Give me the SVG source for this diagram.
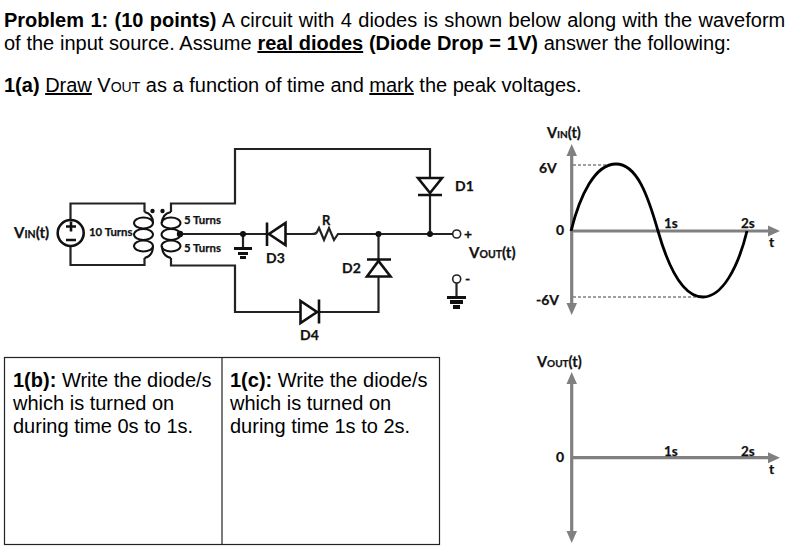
<svg xmlns="http://www.w3.org/2000/svg" width="812" height="551" viewBox="0 0 812 551">
<style>
.t{font-family:"Liberation Sans",Arial,sans-serif;font-size:20px;fill:#000}
.b{font-weight:700}
.l{font-family:Lato,"Noto Sans",sans-serif;font-weight:700;fill:#111;stroke:#111;stroke-width:.25}
.w{fill:none;stroke:#222;stroke-width:2.2}
.k{fill:none;stroke:#111;stroke-width:2.6}
.c{fill:none;stroke:#111;stroke-width:2}
.dot{fill:#111}
.axis{fill:none;stroke:#808080;stroke-width:3.2}
.head{fill:#808080}
.dash{fill:none;stroke:#808080;stroke-width:1.4;stroke-dasharray:3 2}
.u{text-decoration:underline}
</style>
<rect width="812" height="551" fill="#fff"/>
<g id="heading">
<text class="t" x="4" y="27" word-spacing="0.8"><tspan class="b">Problem 1: (10 points)</tspan> A circuit with 4 diodes is shown below along with the waveform</text>
<text class="t" x="4" y="50" word-spacing="0.2">of the input source. Assume <tspan class="b u">real diodes</tspan><tspan class="b"> (Diode Drop = 1V)</tspan> answer the following:</text>
<text class="t" x="4" y="92"><tspan class="b">1(a)</tspan> <tspan class="u">Draw</tspan> V<tspan font-size="14">OUT</tspan> as a function of time and <tspan class="u">mark</tspan> the peak voltages.</text>
</g>
<g id="connectors">
<path class="w" d="M70.500 220V203.500H144.500V212M144.500 258V265H70.500V246"/>
<path class="w" d="M171 212V203.500H235V149H430V178M430 195V234M171 258V265.500H235V312H300M319 312H378.500V277M378.500 259V234M180 234H267M286 234H312M342 234H452.500M243 234V248"/>
<path class="w" d="M312 234C315 234 316 234 317 232L319 228L324 240L329 228L334 240L338 234H342"/>
<path class="w" d="M456.500 283V297"/>
</g>
<g id="source"><circle class="k" cx="70.700" cy="233" r="13"/><path class="k" stroke-width="2" d="M66 226.500H76M71 221.500V231.500M66 240H76"/></g>
<g id="transformer">
<ellipse class="c" cx="143.500" cy="223" rx="9.500" ry="5.500"/><ellipse class="c" cx="143.500" cy="234.500" rx="9.500" ry="5.500"/><ellipse class="c" cx="143.500" cy="246" rx="9.500" ry="5.500"/>
<path class="c" d="M144.500 212Q153 214 153 223M153 246Q153 256 144.500 258"/>
<ellipse class="c" cx="171" cy="223" rx="9.500" ry="5.500"/><ellipse class="c" cx="171" cy="234.500" rx="9.500" ry="5.500"/><ellipse class="c" cx="171" cy="246" rx="9.500" ry="5.500"/>
<path class="c" d="M171 212Q162 214 162 223M162 246Q162 256 171 258"/>
<circle class="dot" cx="152.500" cy="211" r="2.200"/><circle class="dot" cx="162.500" cy="211" r="2.200"/><circle class="dot" cx="180" cy="234" r="3.200"/>
</g>
<g id="ground1"><circle class="dot" cx="243" cy="234" r="3"/><path fill="#111" d="M234 247H252V250H234ZM238 252H248V255H238ZM240 256H246V259H240Z"/></g>
<g id="D1"><path class="k" d="M418 178H442L430 193ZM418 195H442"/></g>
<g id="D2"><path class="k" d="M367 276.500H390.500L378.500 261ZM367 259.500H391"/></g>
<g id="D3"><path class="k" d="M285.500 223V245L269 234ZM267 222.500V246"/></g>
<g id="D4"><path class="k" d="M300.500 301V323L317 312ZM319 299.500V323.500"/></g>
<g id="junctions"><circle class="dot" cx="378.500" cy="234" r="3"/><circle class="dot" cx="430" cy="234" r="3"/></g>
<g id="out-plus"><circle cx="456.700" cy="234" r="4" fill="#fff" stroke="#222" stroke-width="1.600"/></g>
<g id="out-minus"><circle cx="456.700" cy="279" r="4" fill="#fff" stroke="#222" stroke-width="1.600"/><path fill="#111" d="M447 296H466V299H447ZM450 300H463V304H450ZM453 305H460V309H453Z"/></g>
<g id="labels">
<text class="l" x="14" y="238" font-size="15">V<tspan font-size="10.500">IN</tspan>(t)</text>
<text class="l" x="89" y="236" font-size="11.400">10 Turns</text>
<text class="l" x="184" y="224" font-size="11.400">5 Turns</text>
<text class="l" x="184" y="252" font-size="11.400">5 Turns</text>
<text class="l" x="266" y="263" font-size="14">D3</text>
<text class="l" x="322" y="225" font-size="13">R</text>
<text class="l" x="342" y="273" font-size="14">D2</text>
<text class="l" x="300" y="340" font-size="14">D4</text>
<text class="l" x="455" y="191" font-size="14">D1</text>
<text class="l" x="464" y="239" font-size="14">+</text>
<text class="l" x="465" y="284" font-size="14">-</text>
<text class="l" x="469" y="258" font-size="15">V<tspan font-size="10.500">OUT</tspan>(t)</text>
</g>
<g id="vin-plot">
<path class="axis" d="M571.700 155V304M571.700 231H770"/>
<path class="head" d="M571.700 144L577 156H566.500ZM571.700 315L577 303H566.500ZM780 231L768 225.500V236.500Z"/>
<path class="dash" d="M573 165H610M573 297H698"/>
<path fill="none" stroke="#000" stroke-width="2.800" d="M571 231C580 195 595 164 616 164C637 164 648 196 658 231C668 266 682 297 703 297C722 297 738 268 747 231"/>
<text class="l" x="547" y="138" font-size="14.500">V<tspan font-size="10">IN</tspan>(t)</text>
<text class="l" x="539" y="173" font-size="14">6V</text>
<text class="l" x="556" y="235" font-size="14">0</text>
<text class="l" x="536" y="305" font-size="14">-6V</text>
<text class="l" x="664" y="228" font-size="13.500">1s</text>
<text class="l" x="741" y="228" font-size="13.500">2s</text>
<text class="l" x="769" y="247" font-size="14">t</text>
</g>
<g id="vout-plot">
<path class="axis" d="M571.700 384V532M571.700 457.700H770"/>
<path class="head" d="M571.700 372L577 384H566.500ZM571.700 543L577 531H566.500ZM780 457.700L768 452.200V463.200Z"/>
<text class="l" x="537" y="367" font-size="14.500">V<tspan font-size="10">OUT</tspan>(t)</text>
<text class="l" x="556" y="462" font-size="14">0</text>
<text class="l" x="664" y="456" font-size="13.500">1s</text>
<text class="l" x="741" y="456" font-size="13.500">2s</text>
<text class="l" x="769" y="474" font-size="14">t</text>
</g>
<g id="answer-table">
<rect x="4.500" y="357.500" width="435" height="187" fill="none" stroke="#222" stroke-width="1.200"/>
<path d="M222 357.500V544.500" stroke="#222" stroke-width="1.200"/>
<text class="t" x="13" y="387"><tspan class="b">1(b):</tspan> Write the diode/s</text>
<text class="t" x="13" y="410">which is turned on</text>
<text class="t" x="13" y="433">during time 0s to 1s.</text>
<text class="t" x="230" y="387"><tspan class="b">1(c):</tspan> Write the diode/s</text>
<text class="t" x="230" y="410">which is turned on</text>
<text class="t" x="230" y="433">during time 1s to 2s.</text>
</g>
</svg>
